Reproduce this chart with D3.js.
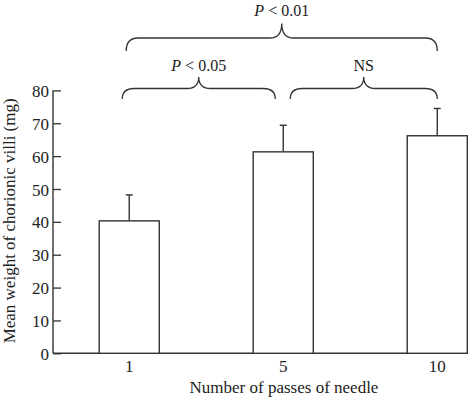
<!DOCTYPE html>
<head>
<meta charset="utf-8">
<title>Chorionic villi weight</title>
<script src="https://cdn.jsdelivr.net/npm/d3@7"></script>
<style>
    body { margin: 0; background: #fff; }
    text { font-family: "Liberation Serif", "DejaVu Serif", serif; fill: #222; }
</style>
</head>
<body>
<script>
    // data
    var passes = ["1", "5", "10"];
    var meanWeight = [40.3, 61.3, 66.2];
    var errorTop = [48.2, 69.4, 74.5];
    var yTicks = [0, 10, 20, 30, 40, 50, 60, 70, 80];
    // comparisons: [from, to, label]
    var compFrom = ["1", "5", "1"];
    var compTo = ["5", "10", "10"];
    var compLabel = ["P < 0.05", "NS", "P < 0.01"];
    var compLevel = [0, 0, 1];

    var width = 474, height = 399;
    var margin = {left: 53, bottom: 46};

    var svg = d3.select("body")
        .append("svg")
        .attr("width", width)
        .attr("height", height);

    var y = d3.scaleLinear()
        .domain([0, 80])
        .range([353.3, 90.4]);

    var x = d3.scaleBand()
        .domain(passes)
        .range([margin.left, 513.5])
        .paddingInner(0.61)
        .paddingOuter(0.30);

    var stroke = "#333";

    // y axis (ticks pointing inward)
    var yAxis = svg.append("g")
        .attr("transform", "translate(" + margin.left + ",0)")
        .call(d3.axisRight(y).tickValues(yTicks).tickSize(8).tickFormat(d3.format("d")));
    yAxis.select(".domain").attr("stroke", stroke).attr("stroke-width", 1.4).attr("d", "M0," + y(80) + "V" + y(0));
    yAxis.selectAll(".tick line").attr("stroke", stroke).attr("stroke-width", 1.3);
    yAxis.selectAll(".tick text")
        .attr("x", -4)
        .attr("dy", "0.36em")
        .attr("text-anchor", "end")
        .style("font-size", "17px")
        .style("font-family", "Liberation Serif");

    // x axis
    var xAxis = svg.append("g")
        .attr("transform", "translate(0," + y(0) + ")")
        .call(d3.axisBottom(x).tickSize(0).tickPadding(7));
    xAxis.select(".domain").attr("stroke", stroke).attr("stroke-width", 1.4)
        .attr("d", "M" + margin.left + ",0H" + (x("10") + x.bandwidth()));
    xAxis.selectAll(".tick text")
        .style("font-size", "17px")
        .style("font-family", "Liberation Serif");

    var rows = passes.map(function(p, i) {
        return {p: p, v: meanWeight[i], e: errorTop[i]};
    });

    // error bars
    svg.selectAll(".err")
        .data(rows)
        .enter()
        .append("line")
        .attr("x1", d => x(d.p) + x.bandwidth() / 2)
        .attr("x2", d => x(d.p) + x.bandwidth() / 2)
        .attr("y1", d => y(d.v))
        .attr("y2", d => y(d.e))
        .attr("stroke", stroke)
        .attr("stroke-width", 1.4);

    svg.selectAll(".cap")
        .data(rows)
        .enter()
        .append("line")
        .attr("x1", d => x(d.p) + x.bandwidth() / 2 - 3.5)
        .attr("x2", d => x(d.p) + x.bandwidth() / 2 + 3.5)
        .attr("y1", d => y(d.e))
        .attr("y2", d => y(d.e))
        .attr("stroke", stroke)
        .attr("stroke-width", 1.4);

    // bars
    svg.selectAll(".bar")
        .data(rows)
        .enter()
        .append("rect")
        .attr("x", d => x(d.p))
        .attr("y", d => y(d.v))
        .attr("width", x.bandwidth())
        .attr("height", d => y(0) - y(d.v))
        .attr("fill", "#fff")
        .attr("stroke", stroke)
        .attr("stroke-width", 1.4);

    // braces
    function brace(x1, x2, yEnd, yMid, yTip) {
        var xc = (x1 + x2) / 2, r = 12;
        return "M" + x1 + "," + yEnd +
            "Q" + x1 + "," + yMid + " " + (x1 + r) + "," + yMid +
            "L" + (xc - r) + "," + yMid +
            "Q" + xc + "," + yMid + " " + xc + "," + yTip +
            "Q" + xc + "," + yMid + " " + (xc + r) + "," + yMid +
            "L" + (x2 - r) + "," + yMid +
            "Q" + x2 + "," + yMid + " " + x2 + "," + yEnd;
    }

    var center = p => x(p) + x.bandwidth() / 2;
    var levelY = [{end: 99, mid: 88.5, tip: 77, text: 71}, {end: 51, mid: 38, tip: 23.5, text: 16}];

    compLabel.forEach(function(lab, i) {
        var x1 = center(compFrom[i]), x2 = center(compTo[i]);
        if (compLevel[i] == 0) {
            if (compFrom[i] == "1") { x1 -= 7; x2 -= 8; }
            else { x1 += 7; }
        } else {
            x1 -= 3;
        }
        var ly = levelY[compLevel[i]];
        svg.append("path")
            .attr("d", brace(x1, x2, ly.end, ly.mid, ly.tip))
            .attr("fill", "none")
            .attr("stroke", stroke)
            .attr("stroke-width", 1.3);

        var t = svg.append("text")
            .attr("x", (x1 + x2) / 2)
            .attr("y", ly.text)
            .attr("text-anchor", "middle")
            .style("font-size", "16px");
        if (lab.indexOf("P") == 0) {
            t.append("tspan").style("font-style", "italic").text("P");
            t.append("tspan").text(lab.slice(1));
        } else {
            t.text(lab);
        }
    });

    // axis titles
    svg.append("text")
        .attr("x", 284)
        .attr("y", 393)
        .attr("text-anchor", "middle")
        .style("font-size", "17px")
        .text("Number of passes of needle");

    svg.append("text")
        .attr("transform", "translate(15," + ((y(0) + y(80)) / 2 - 1) + ") rotate(-90)")
        .attr("text-anchor", "middle")
        .style("font-size", "17px")
        .text("Mean weight of chorionic villi (mg)");
</script>
</body>
</html>
